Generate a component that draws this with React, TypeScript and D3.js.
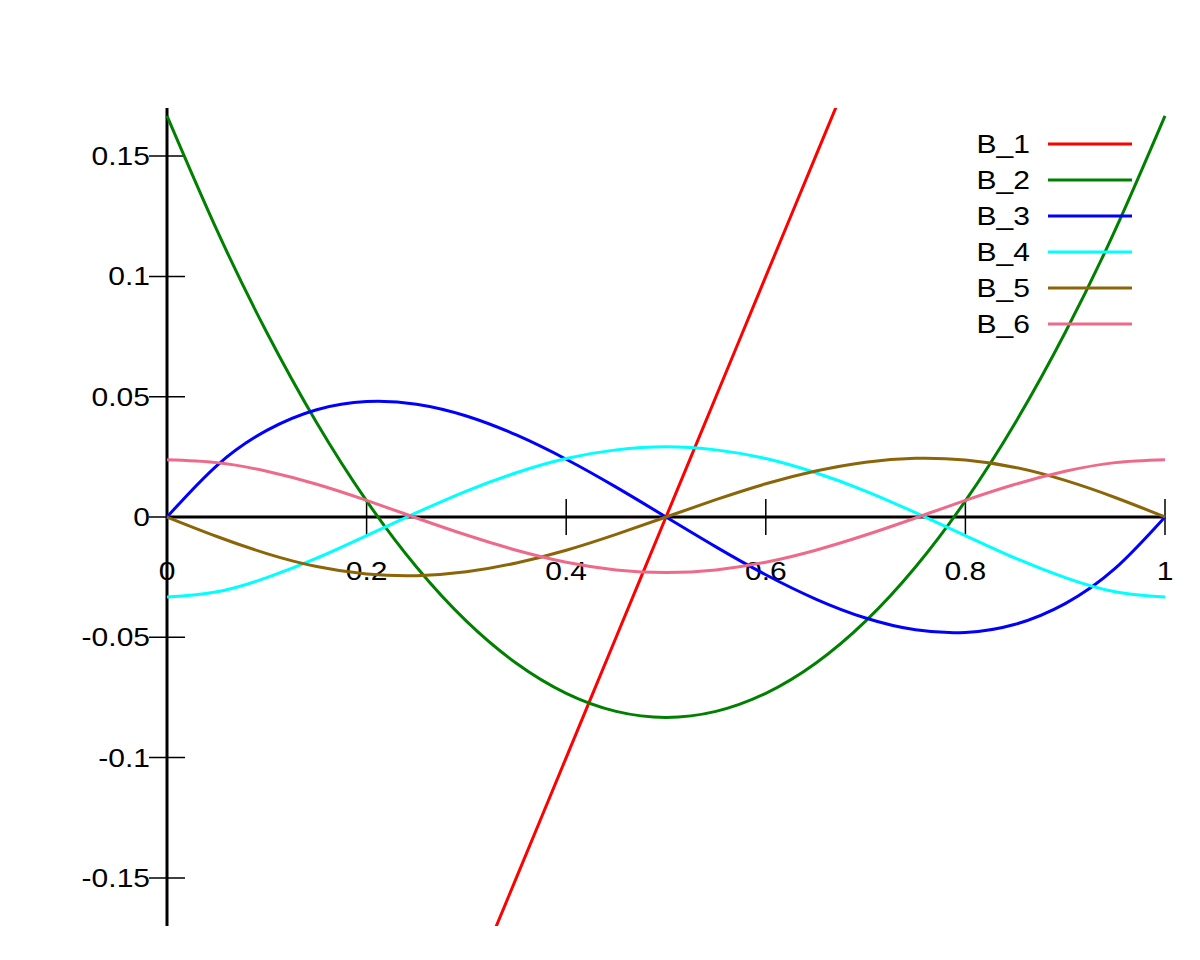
import * as d3 from "d3";

// Sample grid and values (step 0.05)
const xs = [0, 0.05, 0.1, 0.15, 0.2, 0.25, 0.3, 0.35, 0.4, 0.45, 0.5, 0.55, 0.6, 0.65, 0.7, 0.75, 0.8, 0.85, 0.9, 0.95, 1];

const b1 = [-0.5, -0.45, -0.4, -0.35, -0.3, -0.25, -0.2, -0.15, -0.1, -0.05, 0, 0.05, 0.1, 0.15, 0.2, 0.25, 0.3, 0.35, 0.4, 0.45, 0.5];
const b2 = [0.1667, 0.1192, 0.0767, 0.0392, 0.0067, -0.0208, -0.0433, -0.0608, -0.0733, -0.0808, -0.0833, -0.0808, -0.0733, -0.0608, -0.0433, -0.0208, 0.0067, 0.0392, 0.0767, 0.1192, 0.1667];
const b3 = [0, 0.0214, 0.036, 0.0446, 0.048, 0.0469, 0.042, 0.0341, 0.024, 0.0124, 0, -0.0124, -0.024, -0.0341, -0.042, -0.0469, -0.048, -0.0446, -0.036, -0.0214, 0];
const b4 = [-0.0333, -0.0311, -0.0252, -0.0171, -0.0077, 0.0018, 0.0108, 0.0184, 0.0243, 0.0279, 0.0292, 0.0279, 0.0243, 0.0184, 0.0108, 0.0018, -0.0077, -0.0171, -0.0252, -0.0311, -0.0333];
const b5 = [0, -0.0081, -0.0152, -0.0206, -0.0237, -0.0244, -0.0228, -0.0191, -0.0138, -0.0072, 0, 0.0072, 0.0138, 0.0191, 0.0228, 0.0244, 0.0237, 0.0206, 0.0152, 0.0081, 0];
const b6 = [0.0238, 0.0226, 0.019, 0.0136, 0.0069, -0.0004, -0.0075, -0.0138, -0.0188, -0.022, -0.0231, -0.022, -0.0188, -0.0138, -0.0075, -0.0004, 0.0069, 0.0136, 0.019, 0.0226, 0.0238];

const names = ["B_1", "B_2", "B_3", "B_4", "B_5", "B_6"];
const colors = ["#ff0000", "#008000", "#0000ff", "#00ffff", "#8b6508", "#ee6a8a"];
const series = [b1, b2, b3, b4, b5, b6];

const xTicks = [0, 0.2, 0.4, 0.6, 0.8, 1];
const xTickLabels = ["0", "0.2", "0.4", "0.6", "0.8", "1"];
const yTicks = [-0.15, -0.1, -0.05, 0, 0.05, 0.1, 0.15];
const yTickLabels = ["-0.15", "-0.1", "-0.05", "0", "0.05", "0.1", "0.15"];

// the labels in the picture are a bit wider than the plain font
function Label({ x, y, anchor, children }: { x: number; y: number; anchor: string; children: string }) {
  return (
    <text
      transform={`translate(${x},${y}) scale(1.2,1)`}
      fontSize={25}
      textAnchor={anchor as any}
      fill="#000"
    >
      {children}
    </text>
  );
}

export default function App() {
  const W = 1200;
  const H = 960;
  const x = d3.scaleLinear().domain([0, 1]).range([167, 1165]);
  const y = d3.scaleLinear().domain([-0.17, 0.17]).range([926, 108]);
  const line = d3
    .line<number>()
    .x((_, i) => x(xs[i]))
    .y((d) => y(d))
    .curve(d3.curveNatural);
  const font = "'Liberation Sans', Arial, sans-serif";

  return (
    <svg
      width={W}
      height={H}
      style={{ position: "absolute", left: 0, top: 0 }}
      fontFamily={font}
    >
      <rect width={W} height={H} fill="#fff" />
      <defs>
        <clipPath id="plot">
          <rect x={x(0) - 2} y={y(0.17)} width={x(1) - x(0) + 4} height={y(-0.17) - y(0.17)} />
        </clipPath>
      </defs>

      {/* axes */}
      <line x1={x(0)} x2={x(0)} y1={y(0.17)} y2={y(-0.17)} stroke="#000" strokeWidth={3} />
      <line x1={x(0)} x2={x(1)} y1={y(0)} y2={y(0)} stroke="#000" strokeWidth={3} />

      {xTicks.map((t, i) => (
        <g key={"x" + i}>
          {t > 0 && (
            <line x1={x(t)} x2={x(t)} y1={y(0) - 18} y2={y(0) + 18} stroke="#000" strokeWidth={1.5} />
          )}
          <Label x={x(t)} y={580} anchor="middle">
            {xTickLabels[i]}
          </Label>
        </g>
      ))}
      {yTicks.map((t, i) => (
        <g key={"y" + i}>
          <line x1={x(0) - 18} x2={x(0) + 18} y1={y(t)} y2={y(t)} stroke="#000" strokeWidth={1.5} />
          <Label x={150} y={y(t) + 9} anchor="end">
            {yTickLabels[i]}
          </Label>
        </g>
      ))}

      <g clipPath="url(#plot)">
        {series.map((s, i) => (
          <path key={names[i]} d={line(s) ?? ""} fill="none" stroke={colors[i]} strokeWidth={3} />
        ))}
      </g>

      {/* legend */}
      {names.map((n, i) => (
        <g key={"l" + n} transform={`translate(0,${144 + i * 36})`}>
          <Label x={1030} y={9} anchor="end">
            {n}
          </Label>
          <line x1={1048} x2={1132} y1={0} y2={0} stroke={colors[i]} strokeWidth={3} />
        </g>
      ))}
    </svg>
  );
}
